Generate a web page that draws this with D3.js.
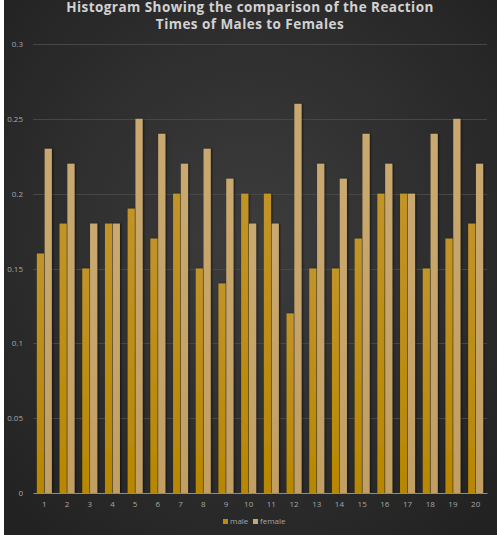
<!DOCTYPE html>
<html>
<head>
<meta charset="utf-8">
<script src="https://cdn.jsdelivr.net/npm/d3@7"></script>
<style>
  html, body { margin: 0; padding: 0; background: #fff; }
  svg { display: block; }
</style>
</head>
<body>
<div id="chart"></div>
<script>
// data
const trials = d3.range(1, 21).map(String);
const male = [0.16, 0.18, 0.15, 0.18, 0.19, 0.17, 0.20, 0.15, 0.14, 0.20,
              0.20, 0.12, 0.15, 0.15, 0.17, 0.20, 0.20, 0.15, 0.17, 0.18];
const female = [0.23, 0.22, 0.18, 0.18, 0.25, 0.24, 0.22, 0.23, 0.21, 0.18,
                0.18, 0.26, 0.22, 0.21, 0.24, 0.22, 0.20, 0.24, 0.25, 0.22];
const yTicks = [0, 0.05, 0.1, 0.15, 0.2, 0.25, 0.3];
const seriesNames = ["male", "female"];
const seriesColors = ["#bb8a0e", "#c9a76c"];

const width = 497, height = 535;
const margin = { top: 44, right: 10, bottom: 42, left: 33 };

const svg = d3.select("#chart").append("svg")
  .attr("width", width)
  .attr("height", height);

const defs = svg.append("defs");
const bg = defs.append("radialGradient").attr("id", "bg")
  .attr("cx", "50%").attr("cy", "45%").attr("r", "70%");
bg.append("stop").attr("offset", "0%").attr("stop-color", "#3d3d3d");
bg.append("stop").attr("offset", "100%").attr("stop-color", "#222222");

const grads = [["#c29428", "#b88700"], ["#caa970", "#c19f63"]];
grads.forEach((g, i) => {
  const lg = defs.append("linearGradient").attr("id", "bar" + i)
    .attr("x1", 0).attr("y1", 0).attr("x2", 0).attr("y2", 1);
  lg.append("stop").attr("offset", "0%").attr("stop-color", g[0]);
  lg.append("stop").attr("offset", "100%").attr("stop-color", g[1]);
});
const shadow = defs.append("filter").attr("id", "shadow")
  .attr("x", "-50%").attr("y", "-10%").attr("width", "200%").attr("height", "120%");
shadow.append("feDropShadow").attr("dx", 1).attr("dy", 0).attr("stdDeviation", 1.2)
  .attr("flood-color", "#000").attr("flood-opacity", 0.6);

svg.append("rect")
  .attr("x", 4).attr("y", 0)
  .attr("width", width - 4).attr("height", height)
  .attr("fill", "url(#bg)");

// title
svg.append("text")
  .attr("text-anchor", "middle")
  .attr("font-family", "Open Sans, sans-serif")
  .attr("font-weight", "bold")
  .attr("font-size", 13.5)
  .attr("letter-spacing", 0.45)
  .attr("fill", "#d2d2d2")
  .selectAll("tspan")
  .data(["Histogram Showing the comparison of the Reaction", "Times of Males to Females"])
  .join("tspan")
  .attr("x", 250)
  .attr("y", (d, i) => 12 + i * 17)
  .text(d => d);

const x = d3.scaleBand()
  .domain(trials)
  .range([margin.left, width - margin.right])
  .paddingInner(0.34)
  .paddingOuter(0.17);

const xSub = d3.scaleBand()
  .domain(seriesNames)
  .range([0, x.bandwidth()])
  .paddingInner(0.08);

const y = d3.scaleLinear()
  .domain([0, 0.3])
  .range([height - margin.bottom, margin.top]);

// gridlines
svg.append("g")
  .selectAll("line")
  .data(yTicks.filter(d => d > 0))
  .join("line")
  .attr("x1", margin.left).attr("x2", width - margin.right)
  .attr("y1", d => Math.round(y(d)) + 0.5).attr("y2", d => Math.round(y(d)) + 0.5)
  .attr("stroke", "#474747")
  .attr("stroke-width", 1);

// y axis labels
const yAxis = svg.append("g")
  .attr("transform", `translate(${margin.left - 7},0)`)
  .call(d3.axisLeft(y).tickValues(yTicks).tickSize(0).tickFormat(d => String(+d.toFixed(2))));
yAxis.select(".domain").remove();
yAxis.selectAll("text")
  .attr("fill", "#a6a6a6")
  .attr("font-family", "Open Sans, sans-serif")
  .attr("font-size", 8);

// bars
const values = [male, female];
const groups = svg.append("g")
  .selectAll("g")
  .data(trials)
  .join("g")
  .attr("transform", d => `translate(${x(d)},0)`);

groups.selectAll("rect")
  .data((d, i) => seriesNames.map((s, k) => ({ s, k, v: values[k][i] })))
  .join("rect")
  .attr("x", d => xSub(d.s))
  .attr("width", xSub.bandwidth())
  .attr("y", d => y(d.v))
  .attr("height", d => y(0) - y(d.v))
  .attr("fill", d => `url(#bar${d.k})`)
  .attr("filter", "url(#shadow)");

// x axis
const xAxis = svg.append("g")
  .attr("transform", `translate(0,${y(0)})`)
  .call(d3.axisBottom(x).tickSize(0).tickPadding(8));
xAxis.select(".domain")
  .attr("stroke", "#8c8c8c")
  .attr("stroke-width", 1.2);
xAxis.selectAll("text")
  .attr("fill", "#a6a6a6")
  .attr("font-family", "Open Sans, sans-serif")
  .attr("font-size", 8);

// legend
const legend = svg.append("g")
  .attr("transform", "translate(223,520)");
const legendItems = legend.selectAll("g")
  .data(seriesNames)
  .join("g")
  .attr("transform", (d, i) => `translate(${i * 30},0)`);
legendItems.append("rect")
  .attr("width", 5).attr("height", 5)
  .attr("y", -1)
  .attr("fill", (d, i) => seriesColors[i]);
legendItems.append("text")
  .attr("x", 7).attr("y", 4)
  .attr("fill", "#a6a6a6")
  .attr("font-family", "Open Sans, sans-serif")
  .attr("font-size", 8)
  .text(d => d);
</script>
</body>
</html>
